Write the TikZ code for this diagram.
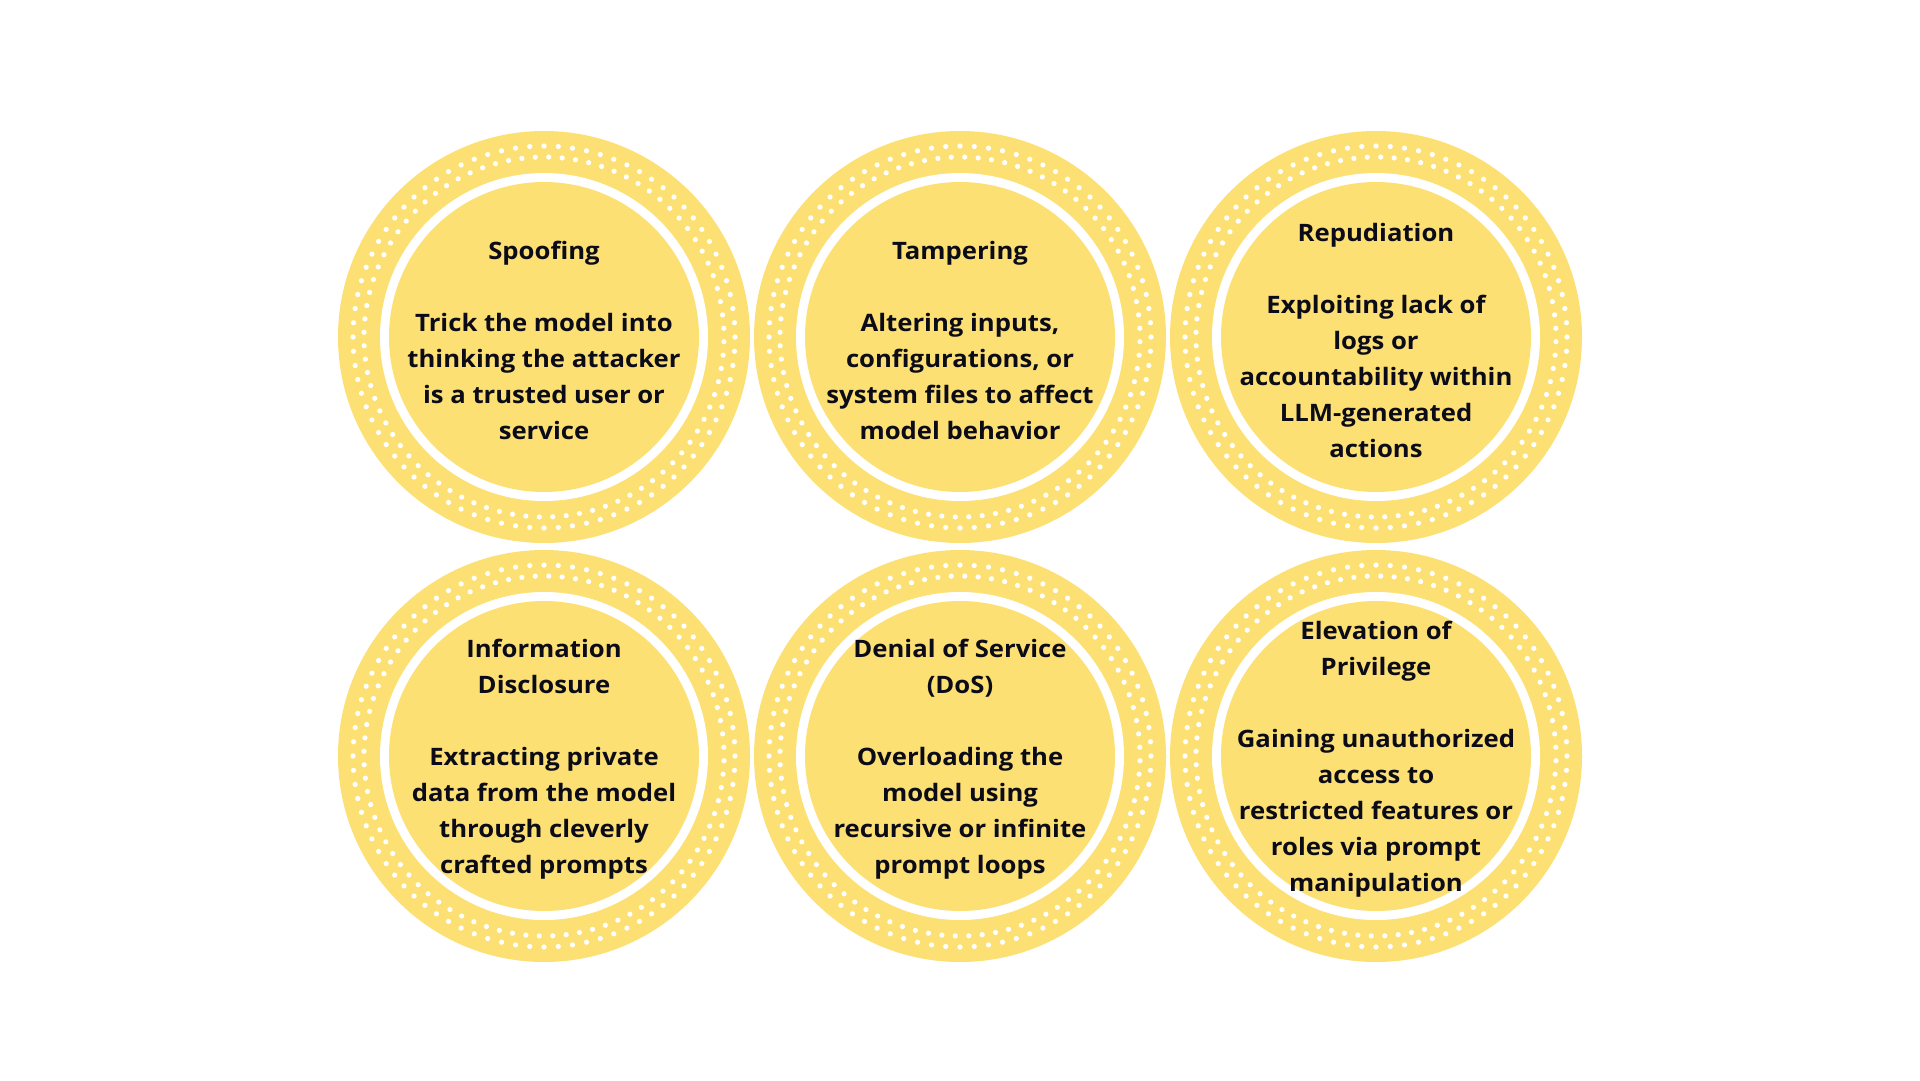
\documentclass[tikz,border=0pt]{standalone}
\usepackage{fontspec}
\setmainfont{Open Sans}[FakeStretch=1.07]
\usetikzlibrary{calc}
\begin{document}
\begin{tikzpicture}[x=1pt,y=-1pt]
\definecolor{badge}{RGB}{253,224,115}
\definecolor{ink}{RGB}{12,12,24}
\tikzset{
  txt/.style={font=\fontsize{24}{36}\selectfont\bfseries, text=ink, align=center, inner sep=0pt, yshift=-3pt},
  disc/.style={fill=badge},
  ring/.style={fill=white},
  dot/.style={fill=white}
}
\fill[white] (0,0) rectangle (1920,1080);
\useasboundingbox (0,0) rectangle (1920,1080);
\newcommand\mybadge[2]{%
  \fill[disc] (#1,#2) circle[radius=206];
  \foreach \a in {0,...,83} {
    \fill[dot] ([shift={(#1,#2)}]\a*4.285714:191) circle[radius=2.6];
    \fill[dot] ([shift={(#1,#2)}]\a*4.285714+1.5:180) circle[radius=2.6];
  }
  \fill[ring] (#1,#2) circle[radius=164];
  \fill[disc] (#1,#2) circle[radius=155];
}
\mybadge{544}{337}
\mybadge{960}{337}
\mybadge{1376}{337}
\mybadge{544}{756}
\mybadge{960}{756}
\mybadge{1376}{756}
\node[txt] (spoof) at (544,337) {Spoofing\\[36pt]Trick the model into\\thinking the attacker\\is a trusted user or\\service};
\node[txt] (tamp) at (960,337) {Tampering\\[36pt]Altering inputs,\\configurations, or\\system files to affect\\model behavior};
\node[txt] (repu) at (1376,337) {Repudiation\\[36pt]Exploiting lack of\\logs or\\accountability within\\LLM-generated\\actions};
\node[txt] (info) at (544,756) {Information\\Disclosure\\[36pt]Extracting private\\data from the model\\through cleverly\\crafted prompts};
\node[txt] (dos) at (960,756) {Denial of Service\\(DoS)\\[36pt]Overloading the\\model using\\recursive or infinite\\prompt loops};
\node[txt] (elev) at (1376,756) {Elevation of\\Privilege\\[36pt]Gaining unauthorized\\access to\\restricted features or\\roles via prompt\\manipulation};
\end{tikzpicture}
\end{document}
